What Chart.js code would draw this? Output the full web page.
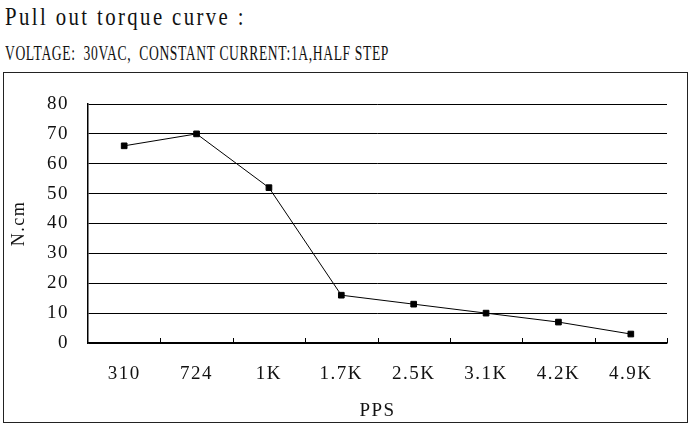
<!DOCTYPE html>
<html><head><meta charset="utf-8">
<script src="https://cdn.jsdelivr.net/npm/chart.js@4"></script>
<style>
html,body{margin:0;padding:0;background:#fff;width:690px;height:427px;overflow:hidden;}
#t1{position:absolute;left:5px;top:2px;font-family:"Liberation Serif",serif;font-size:26px;letter-spacing:3px;color:#111;white-space:pre;transform-origin:0 0;}
#t2{position:absolute;left:5px;top:40px;font-family:"Liberation Serif",serif;font-size:22px;letter-spacing:1px;color:#111;white-space:pre;transform-origin:0 0;}
#box{position:absolute;left:3px;top:72px;width:683px;height:349px;border:1.5px solid #222;}
#c{display:block;}
</style></head><body>
<div id="t1">Pull out torque curve :</div>
<div id="t2">VOLTAGE:  30VAC,  CONSTANT CURRENT:1A,HALF STEP</div>
<div id="box"><canvas id="c" width="683" height="349"></canvas></div>
<script>
const categories = ["310","724","1K","1.7K","2.5K","3.1K","4.2K","4.9K"];
const torque = [66,70,52,16,13,10,7,3];
const yTicks = [0,10,20,30,40,50,60,70,80];
const xTitle = "PPS";
const yTitle = "N.cm";

// fit title widths to the reference
function fit(id,w){const e=document.getElementById(id);const r=e.getBoundingClientRect().width;e.style.transform='scaleX('+(w/r)+')';}
fit('t1',241);fit('t2',384);

const spacing = {
  id:'spacing',
  beforeLayout(chart){chart.ctx.letterSpacing='1.5px';},
  beforeDraw(chart){chart.ctx.letterSpacing='1.5px';}
};

const innerTicks = {
  id:'innerTicks',
  afterDatasetsDraw(chart){
    const x=chart.scales.x, ctx=chart.ctx, b=chart.chartArea.bottom;
    ctx.save();ctx.strokeStyle='#000';ctx.lineWidth=1;
    const n=categories.length;
    for(let i=1;i<=n;i++){
      const px=Math.round((x.getPixelForValue(i-1)+ (i<n? x.getPixelForValue(i): x.getPixelForValue(i-1)*2-x.getPixelForValue(i-2)))/2)+0.5;
      ctx.beginPath();ctx.moveTo(px,b);ctx.lineTo(px,b-5);ctx.stroke();
    }
    ctx.restore();
  }
};

new Chart(document.getElementById('c'),{
  type:'line',
  data:{labels:categories,datasets:[{data:torque,borderColor:'#000',backgroundColor:'#000',borderWidth:1,
    pointStyle:'rect',pointRadius:4,pointHoverRadius:4,tension:0}]},
  options:{
    responsive:false,animation:false,devicePixelRatio:1,
    layout:{padding:{left:0,right:20,top:31,bottom:0}},
    plugins:{legend:{display:false},tooltip:{enabled:false}},
    scales:{
      x:{offset:true,
        grid:{display:true,drawOnChartArea:false,drawTicks:false,color:'#000'},
        border:{display:true,color:'#000',width:1.5},
        ticks:{color:'#111',font:{family:'"Liberation Serif",serif',size:19},padding:20,maxRotation:0,autoSkip:false},
        title:{display:true,text:xTitle,color:'#111',font:{family:'"Liberation Serif",serif',size:19},padding:{top:7,bottom:0}},
        afterFit(s){s.height=79;}
      },
      y:{min:0,max:80,
        afterBuildTicks(s){s.ticks=yTicks.map(v=>({value:v}));},
        grid:{color:'#000',lineWidth:1,drawTicks:false},
        border:{display:true,color:'#000',width:1.5},
        ticks:{color:'#111',font:{family:'"Liberation Serif",serif',size:19},padding:19},
        title:{display:true,text:yTitle,color:'#111',font:{family:'"Liberation Serif",serif',size:18},padding:{bottom:8}},
        afterFit(s){s.width=84;}
      }
    }
  },
  plugins:[spacing,innerTicks]
});
</script>
</body></html>
